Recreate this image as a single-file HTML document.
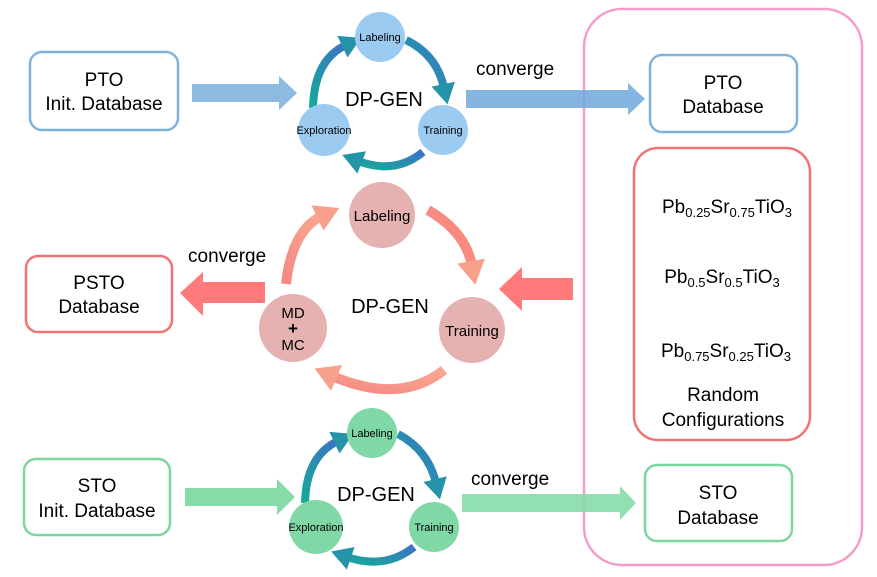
<!DOCTYPE html>
<html><head><meta charset="utf-8"><style>
html,body{margin:0;padding:0;background:#fff;}
svg{display:block;font-family:"Liberation Sans",Arial,sans-serif;}
</style></head><body>
<svg width="877" height="577" viewBox="0 0 877 577" xmlns="http://www.w3.org/2000/svg">
<defs>
<linearGradient id="gb" x1="0" y1="1" x2="1" y2="0"><stop offset="0" stop-color="#17a89a"/><stop offset="1" stop-color="#3c72c8"/></linearGradient>
<linearGradient id="gr" x1="0" y1="1" x2="1" y2="0"><stop offset="0" stop-color="#f78a84"/><stop offset="1" stop-color="#f8a890"/></linearGradient>
<marker id="mt" markerWidth="2.6" markerHeight="3" refX="0.5" refY="1.5" orient="auto"><path d="M0,0 L2.6,1.5 L0,3z" fill="#2593a8"/></marker>
<marker id="mr" markerWidth="2.4" markerHeight="2.8" refX="0.5" refY="1.4" orient="auto"><path d="M0,0 L2.4,1.4 L0,2.8z" fill="#f9a08c"/></marker>
</defs>

<rect x="584" y="9" width="278" height="556" rx="38" fill="none" stroke="#f59ccb" stroke-width="2.5"/>

<rect x="30" y="52" width="148" height="78" rx="12" fill="#fff" stroke="#7fb3de" stroke-width="2.5"/>
<text x="104" y="86" font-size="19" text-anchor="middle">PTO</text>
<text x="104" y="110" font-size="19" text-anchor="middle">Init. Database</text>

<rect x="650" y="55" width="147" height="77" rx="12" fill="#fff" stroke="#7fb3de" stroke-width="2.5"/>
<text x="723" y="89" font-size="19" text-anchor="middle">PTO</text>
<text x="723" y="113" font-size="19" text-anchor="middle">Database</text>

<rect x="634" y="148" width="176" height="292" rx="24" fill="none" stroke="#f27373" stroke-width="2.5"/>
<text x="727" y="213" font-size="19" text-anchor="middle">Pb<tspan font-size="13" dy="4">0.25</tspan><tspan dy="-4">Sr</tspan><tspan font-size="13" dy="4">0.75</tspan><tspan dy="-4">TiO</tspan><tspan font-size="13" dy="4">3</tspan></text>
<text x="722" y="283" font-size="19" text-anchor="middle">Pb<tspan font-size="13" dy="4">0.5</tspan><tspan dy="-4">Sr</tspan><tspan font-size="13" dy="4">0.5</tspan><tspan dy="-4">TiO</tspan><tspan font-size="13" dy="4">3</tspan></text>
<text x="726" y="357" font-size="19" text-anchor="middle">Pb<tspan font-size="13" dy="4">0.75</tspan><tspan dy="-4">Sr</tspan><tspan font-size="13" dy="4">0.25</tspan><tspan dy="-4">TiO</tspan><tspan font-size="13" dy="4">3</tspan></text>
<text x="723" y="401" font-size="19" text-anchor="middle">Random</text>
<text x="723" y="426" font-size="19" text-anchor="middle">Configurations</text>

<rect x="26" y="256" width="146" height="76" rx="12" fill="#fff" stroke="#f27373" stroke-width="2.5"/>
<text x="99" y="289" font-size="19" text-anchor="middle">PSTO</text>
<text x="99" y="313" font-size="19" text-anchor="middle">Database</text>

<rect x="24" y="459" width="146" height="76" rx="12" fill="#fff" stroke="#7dd6a0" stroke-width="2.5"/>
<text x="97" y="492" font-size="19" text-anchor="middle">STO</text>
<text x="97" y="517" font-size="19" text-anchor="middle">Init. Database</text>

<rect x="645" y="465" width="147" height="76" rx="12" fill="#fff" stroke="#7dd6a0" stroke-width="2.5"/>
<text x="718" y="499" font-size="19" text-anchor="middle">STO</text>
<text x="718" y="524" font-size="19" text-anchor="middle">Database</text>

<polygon points="192,84 279,84 279,76 297,93 279,110 279,102 192,102" fill="#7fb3de" opacity="0.9"/>
<polygon points="466,90 628,90 628,83 645,99 628,115 628,108 466,108" fill="#6fa8da" opacity="0.85"/>
<polygon points="265,282 203,282 203,272 180,293 203,316 203,303 265,303" fill="#ff7b7b"/>
<polygon points="573,278 522,278 522,267 499,289 522,311 522,300 573,300" fill="#ff7b7b"/>
<polygon points="185,488 277,488 277,479 295,497 277,515 277,506 185,506" fill="#86dba8"/>
<polygon points="462,494 620,494 620,486 636,503 620,520 620,512 462,512" fill="#86dba8" opacity="0.9"/>

<text x="476" y="75" font-size="19">converge</text>
<text x="188" y="262" font-size="19">converge</text>
<text x="471" y="485" font-size="19">converge</text>

<g>
<path d="M313,108 Q314,60 346,45" fill="none" stroke="url(#gb)" stroke-width="8" marker-end="url(#mt)"/>
<path d="M406,40 Q437,55 444,88" fill="none" stroke="url(#gb)" stroke-width="8" marker-end="url(#mt)"/>
<path d="M423,152 Q395,175 358,161" fill="none" stroke="url(#gb)" stroke-width="8" marker-end="url(#mt)"/>
<circle cx="380" cy="37" r="25" fill="#9ccbf1"/>
<circle cx="324" cy="130" r="26" fill="#9ccbf1"/>
<circle cx="443" cy="130" r="25" fill="#9ccbf1"/>
<text x="380" y="41" font-size="11" text-anchor="middle">Labeling</text>
<text x="324" y="134" font-size="11" text-anchor="middle">Exploration</text>
<text x="443" y="134" font-size="11" text-anchor="middle">Training</text>
<text x="384" y="106" font-size="20" text-anchor="middle">DP-GEN</text>
</g>

<g>
<path d="M286,284 Q292,230 322,216" fill="none" stroke="url(#gr)" stroke-width="10" marker-end="url(#mr)"/>
<path d="M428,210 Q466,232 472,266" fill="none" stroke="#f88a80" stroke-width="10" marker-end="url(#mr)"/>
<path d="M444,370 Q400,405 332,376" fill="none" stroke="url(#gr)" stroke-width="10" marker-end="url(#mr)"/>
<circle cx="382" cy="215" r="33" fill="#e6b1b1"/>
<circle cx="293" cy="328" r="34" fill="#e6b1b1"/>
<circle cx="472" cy="330" r="33" fill="#e6b1b1"/>
<text x="382" y="221" font-size="15" text-anchor="middle">Labeling</text>
<text x="293" y="318" font-size="15" text-anchor="middle">MD</text>
<text x="293" y="334" font-size="17" text-anchor="middle" font-weight="bold">+</text>
<text x="293" y="350" font-size="15" text-anchor="middle">MC</text>
<text x="472" y="336" font-size="15" text-anchor="middle">Training</text>
<text x="390" y="313" font-size="20" text-anchor="middle">DP-GEN</text>
</g>

<g>
<path d="M305,503 Q306,456 338,441" fill="none" stroke="url(#gb)" stroke-width="8" marker-end="url(#mt)"/>
<path d="M398,434 Q428,450 436,483" fill="none" stroke="url(#gb)" stroke-width="8" marker-end="url(#mt)"/>
<path d="M414,547 Q385,570 347,557" fill="none" stroke="url(#gb)" stroke-width="8" marker-end="url(#mt)"/>
<circle cx="372" cy="433" r="25" fill="#7fd8a6"/>
<circle cx="316" cy="527" r="27" fill="#7fd8a6"/>
<circle cx="434" cy="527" r="25" fill="#7fd8a6"/>
<text x="372" y="437" font-size="11" text-anchor="middle">Labeling</text>
<text x="316" y="531" font-size="11" text-anchor="middle">Exploration</text>
<text x="434" y="531" font-size="11" text-anchor="middle">Training</text>
<text x="376" y="501" font-size="20" text-anchor="middle">DP-GEN</text>
</g>
</svg>
</body></html>
